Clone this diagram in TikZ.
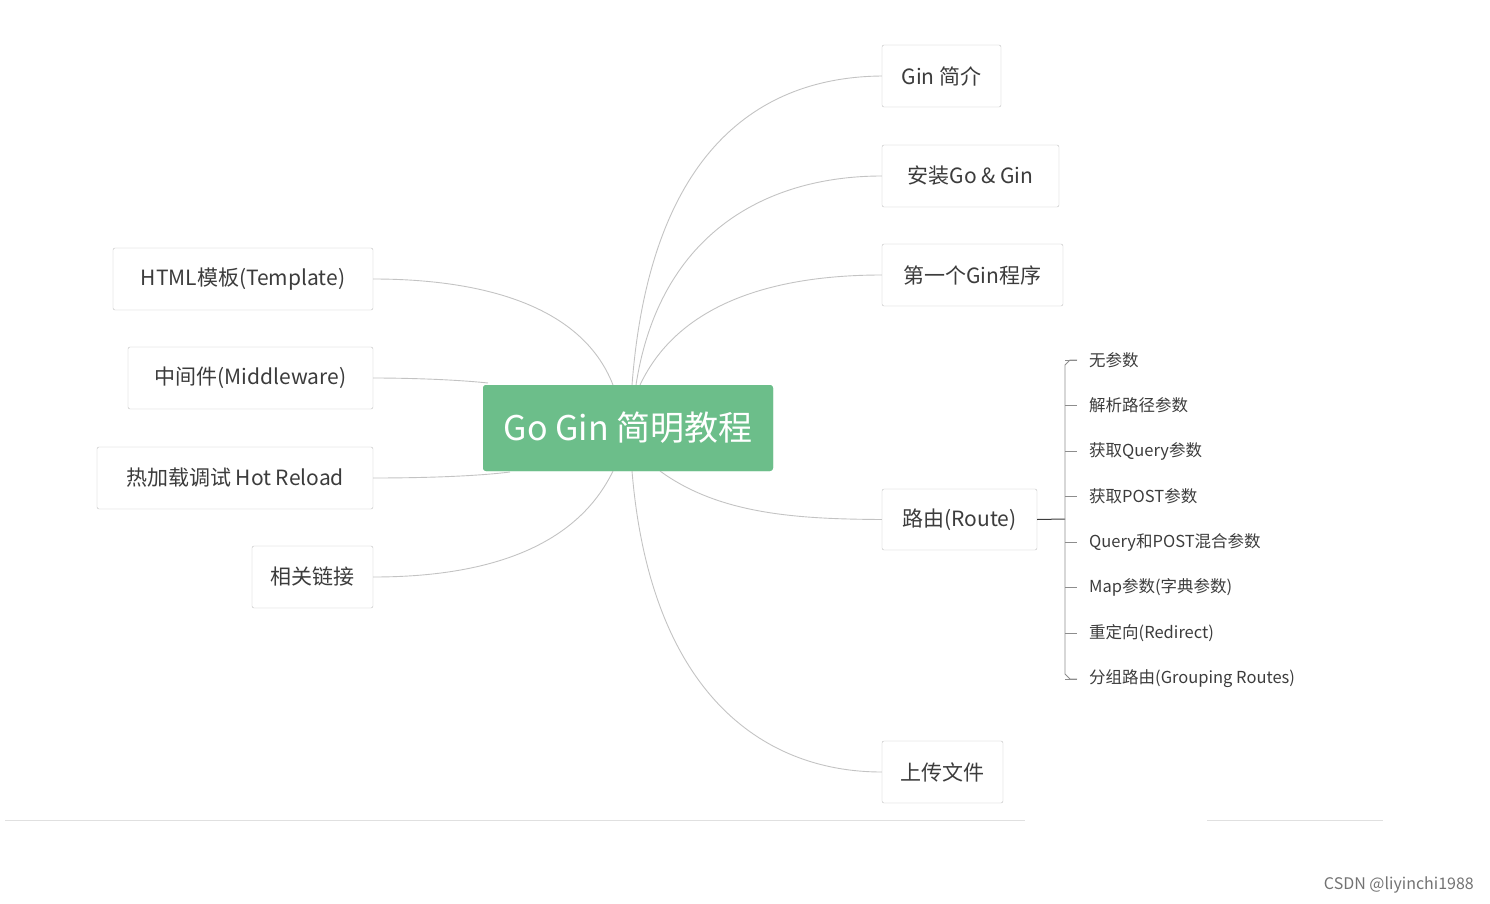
\documentclass[tikz,border=0pt]{standalone}
\usepackage{fontspec}
\setmainfont{Noto Sans CJK SC}
\definecolor{ctr}{RGB}{108,190,138}
\definecolor{ln}{RGB}{195,195,195}
\definecolor{bx}{RGB}{190,190,190}
\definecolor{tx}{RGB}{60,60,60}
\begin{document}
\begin{tikzpicture}[x=1pt,y=-1pt,
  box/.style={draw=bx,fill=white,rounded corners=2pt,text=tx,inner sep=0pt,font=\fontsize{21}{25}\selectfont},
  sub/.style={anchor=west,text=tx,inner sep=0pt,font=\fontsize{16.5}{20}\selectfont},
  con/.style={draw=ln,line width=0.9pt}]
\useasboundingbox (0,0) rectangle (1490,904);
\node[fill=ctr,rounded corners=3pt,text=white,minimum width=290pt,minimum height=86pt,inner sep=0pt,font=\fontsize{34}{40}\selectfont] (c) at (628,428) {Go Gin 简明教程};
\node[box,minimum width=119pt,minimum height=62pt] (r1) at (941.5,76) {Gin 简介};
\node[box,minimum width=177pt,minimum height=62pt] (r2) at (970.5,176) {安装Go \& Gin};
\node[box,minimum width=181pt,minimum height=62pt] (r3) at (972.5,275) {第一个Gin程序};
\node[box,minimum width=155pt,minimum height=61pt] (r4) at (959.5,519.5) {路由(Route)};
\node[box,minimum width=121pt,minimum height=62pt] (r5) at (942.5,772) {上传文件};
\node[box,minimum width=260pt,minimum height=62pt] (l1) at (243,279) {HTML模板(Template)};
\node[box,minimum width=245pt,minimum height=62pt] (l2) at (250.5,378) {中间件(Middleware)};
\node[box,minimum width=276pt,minimum height=62pt] (l3) at (235,478) {热加载调试 Hot Reload};
\node[box,minimum width=121pt,minimum height=62pt] (l4) at (312.5,577) {相关链接};
\coordinate (t) at (632,385);
\coordinate (b) at (632,471);
\begin{scope}[on background layer/.style={}]
\draw[con] (t) .. controls (650,150) and (760,77) .. (r1.west);
\draw[con] (636,385) .. controls (660,230) and (770,176) .. (r2.west);
\draw[con] (640,385) .. controls (680,300) and (780,275) .. (r3.west);
\draw[con] (660,471) .. controls (720,515) and (800,519) .. (r4.west);
\draw[con] (b) .. controls (650,690) and (760,772) .. (r5.west);
\draw[con] (613,385) .. controls (580,300) and (470,279) .. (l1.east);
\draw[con] (488,383) .. controls (450,379) and (400,378) .. (l2.east);
\draw[con] (510,472) .. controls (470,477) and (410,478) .. (l3.east);
\draw[con] (613,471) .. controls (570,560) and (460,577) .. (l4.east);
\end{scope}
\node[fill=ctr,rounded corners=3pt,text=white,minimum width=290pt,minimum height=86pt,inner sep=0pt,font=\fontsize{34}{40}\selectfont] at (628,428) {Go Gin 简明教程};
\coordinate (br) at (1065,519);
\draw[tx,line width=1pt] (r4.east) -- (br);
\draw[ln!60!tx,line width=0.9pt] (1077,360) -- (1070,360) -- (1065,365) -- (1065,674) -- (1070,679) -- (1077,679);
\foreach \y/\s [count=\i] in {360/无参数,405/解析路径参数,451/获取Query参数,496/获取POST参数,542/Query和POST混合参数,587/Map参数(字典参数),633/重定向(Redirect),679/分组路由(Grouping Routes)}{
  \node[sub] (s\i) at (1089,\y) {\s};
  \draw[ln!60!tx,line width=0.9pt] (1065,\y) -- (1077,\y);
}
\draw[black!12,line width=1pt] (5,820) -- (1025,820) (1207,820) -- (1383,820);
\node[anchor=east,text=black!55,inner sep=0pt,font=\fontsize{16}{19}\selectfont] (w) at (1474,885) {CSDN @liyinchi1988};
\end{tikzpicture}
\end{document}
